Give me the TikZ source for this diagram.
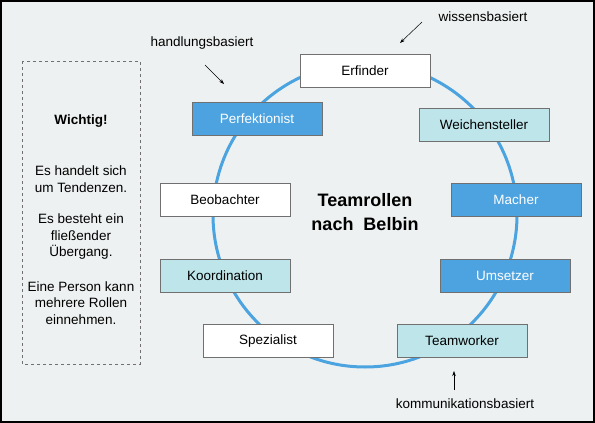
\documentclass[tikz,border=0pt]{standalone}
\usepackage{fontspec}
\setmainfont{Liberation Sans}
\usetikzlibrary{arrows.meta}
\definecolor{pagebg}{HTML}{EEF1F1}
\definecolor{ringblue}{HTML}{4BA3E0}
\definecolor{roleblue}{HTML}{4DA3E0}
\definecolor{rolecyan}{HTML}{BEE5EA}
\definecolor{rolegray}{HTML}{707070}
\tikzset{
  rolebox/.style={draw=rolegray, line width=0.9pt, minimum width=130pt, minimum height=33pt,
    inner sep=0pt, font=\fontsize{13.5}{16.5}\selectfont},
  whiterole/.style={rolebox, fill=white, text=black},
  cyanrole/.style={rolebox, fill=rolecyan, text=black},
  bluerole/.style={rolebox, fill=roleblue, text=white},
  basis/.style={font=\fontsize{13.5}{16.5}\selectfont},
  hint/.style={align=center, font=\fontsize{13.5}{16.5}\selectfont},
  pointer/.style={-{Stealth[length=5pt,width=3.5pt]}, line width=0.5pt}
}
\begin{document}
\begin{tikzpicture}[x=1pt,y=-1pt]
 \useasboundingbox (0,0) rectangle (595,423);
 \fill[pagebg](0,0) rectangle (595,423);
 \draw[black,line width=2pt](1,1) rectangle (594,422);
 % Kreis
 \draw[ringblue,line width=3pt](365,215) circle [radius=152pt];
 % Rollen
 \node[whiterole] (erfinder) at (365,71) {Erfinder};
 \node[cyanrole] (weichen) at (484,125) {Weichensteller};
 \node[bluerole] (macher) at (516,200) {Macher};
 \node[bluerole] (umsetzer) at (505,276) {Umsetzer};
 \node[cyanrole] (teamworker) at (462,341) {Teamworker};
 \node[whiterole] (spezialist) at (268,341) {Spezialist};
 \node[cyanrole] (koordination) at (225,276) {Koordination};
 \node[whiterole] (beobachter) at (225,200) {Beobachter};
 \node[bluerole] (perfekt) at (257,119) {Perfektionist};
 % Titel
 \node[align=center,font=\fontsize{18}{24}\selectfont\bfseries] (titel) at (365,212) {Teamrollen\\nach~~Belbin};
 % Basis-Beschriftungen
 \node[basis] (handlung) at (202,43) {handlungsbasiert};
 \node[basis] (wissen) at (483,17) {wissensbasiert};
 \node[basis] (kommunikation) at (465,404) {kommunikationsbasiert};
 \coordinate (handlungA) at (205,65);
 \coordinate (handlungB) at (224,84);
 \coordinate (wissenA) at (422,22);
 \coordinate (wissenB) at (400,43);
 \coordinate (kommA) at (454,390);
 \coordinate (kommB) at (454,371);
 \draw[pointer](handlungA)--(handlungB);
 \draw[pointer](wissenA)--(wissenB);
 \draw[pointer](kommA)--(kommB);
 % Hinweis
 \draw[rolegray,dashed,line width=0.8pt](22,61) rectangle (140,364);
 \node[hint,font=\fontsize{13.5}{16.5}\selectfont\bfseries] (wichtig) at (81,121) {Wichtig!};
 \node[hint] (tendenz) at (81,179) {Es handelt sich\\um Tendenzen.};
 \node[hint] (uebergang) at (81,237) {Es besteht ein\\fließender\\Übergang.};
 \node[hint] (person) at (81,303) {Eine Person kann\\mehrere Rollen\\einnehmen.};
\end{tikzpicture}
\end{document}
